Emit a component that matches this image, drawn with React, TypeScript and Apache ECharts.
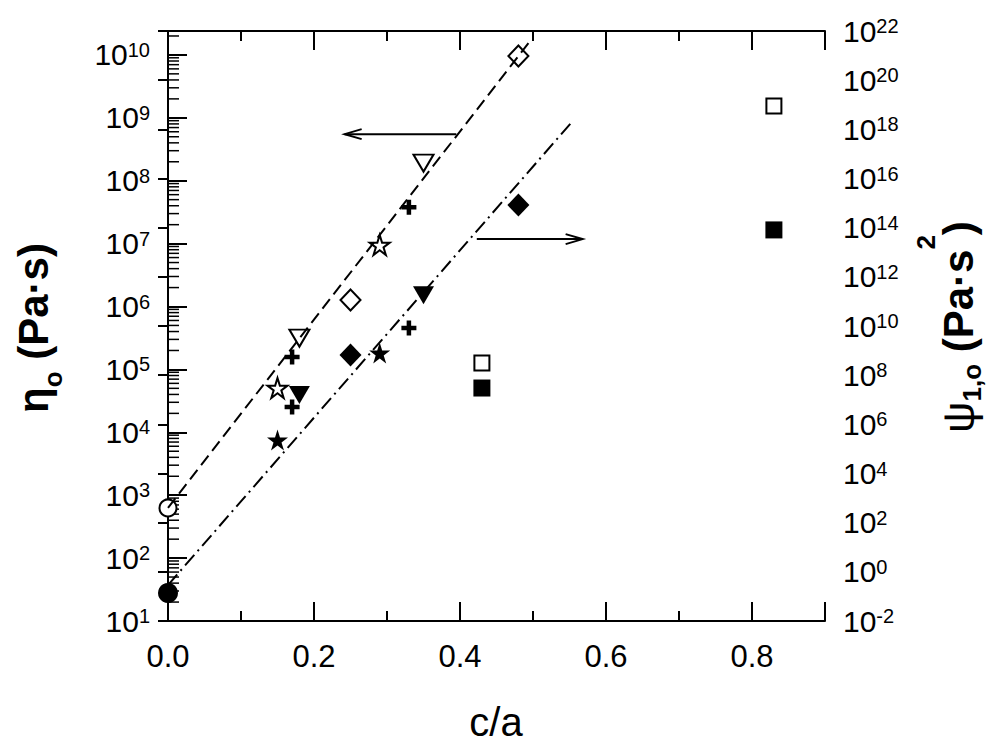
import React, { useEffect, useRef } from 'react';
import * as echarts from 'echarts';

const FONT = "'Liberation Sans', Arial, Helvetica, sans-serif";

// ---- axes ----
const xMin = 0;
const xMax = 0.9;
const xMajorStep = 0.2;
const xMinorStep = 0.1;
const etaMin = 10;
const etaMax = 2.4e10;
const psiMin = 1e-2;
const psiMax = 1e22;
const minorMultipliers = [2, 3, 4, 5, 6, 7, 8, 9];
const etaDecadeExponents = [1, 2, 3, 4, 5, 6, 7, 8, 9, 10];

// ---- data: c/a, eta_o (Pa·s, open symbols), psi_1,o (Pa·s², filled symbols) ----
const circleCA = [0];
const circleEta = [627];
const circlePsi = [0.138];

const starCA = [0.15, 0.29];
const starEta = [5.06e4, 9.5e6];
const starPsi = [2.3e5, 8.0e8];

const crossCA = [0.17, 0.33];
const crossEta = [1.57e5, 3.8e7];
const crossPsi = [5.1e6, 8.3e9];

const triangleCA = [0.18, 0.35];
const triangleEta = [3.15e5, 1.9e8];
const trianglePsi = [1.56e7, 1.8e11];

const diamondCA = [0.25, 0.48];
const diamondEta = [1.27e6, 9.6e9];
const diamondPsi = [6.6e8, 8.3e14];

const squareCA = [0.43, 0.83];
const squareEta = [1.26e5, 1.54e9];
const squarePsi = [3.0e7, 8.1e13];

// fitted lines
const etaFitCA = [0, 0.496];
const etaFitValues = [631, 1.66e10];
const psiFitCA = [0, 0.552];
const psiFitValues = [0.29, 1.8e18];

// arrows (in c/a and eta_o units): [x1, y1, x2, y2]
const arrowToLeft = [0.395, 5.5e8, 0.242, 5.5e8];
const arrowToRight = [0.423, 1.18e7, 0.568, 1.18e7];

const STAR = 'path://M50,0L61.2,34.5L97.6,34.5L68.2,55.9L79.4,90.5L50,69.1L20.6,90.5L31.8,55.9L2.4,34.5L38.8,34.5Z';
const CROSS = 'path://M35,0H65V35H100V65H65V100H35V65H0V35H35Z';

const zip = (xs: number[], ys: number[]) => xs.map((x, i) => [x, ys[i]]);

const openStyle = { color: '#fff', borderColor: '#000', borderWidth: 2, opacity: 1 };
const filledStyle = { color: '#000', borderColor: '#000', borderWidth: 0, opacity: 1 };

const supLabel = (v: number) => {
  const e = Math.log10(v);
  const r = Math.round(e);
  if (Math.abs(e - r) > 1e-6) return '';
  return `{b|10}{s|${r}}`;
};

const labelRich = {
  b: { fontSize: 30, fontFamily: FONT, color: '#000', lineHeight: 30 },
  s: { fontSize: 20, fontFamily: FONT, color: '#000', lineHeight: 20, verticalAlign: 'top' },
};

export default function App() {
  const ref = useRef<HTMLDivElement>(null);
  useEffect(() => {
    if (!ref.current) return;
    const chart = echarts.init(ref.current, undefined, { renderer: 'svg' });

    const minorValues: number[] = [];
    etaDecadeExponents.forEach((e) => {
      minorMultipliers.forEach((m) => {
        const v = m * Math.pow(10, e - 1);
        if (v > etaMin && v < etaMax) minorValues.push(v);
      });
    });
    minorMultipliers.forEach((m) => {
      const v = m * Math.pow(10, 10);
      if (v < etaMax) minorValues.push(v);
    });

    const scatter = (
      name: string,
      xs: number[],
      ys: number[],
      yAxisIndex: number,
      symbol: string,
      size: number | number[],
      style: any,
      rotate = 0
    ) => ({
      name,
      type: 'scatter',
      xAxisIndex: 0,
      yAxisIndex,
      data: zip(xs, ys),
      symbol,
      symbolSize: size,
      symbolRotate: rotate,
      itemStyle: style,
      z: 3,
      silent: true,
    });

    const boxLine = { show: true, lineStyle: { color: '#000', width: 2 } };

    const option: any = {
      animation: false,
      backgroundColor: '#fff',
      grid: { left: 168, right: 168, top: 31, bottom: 135, containLabel: false, outerBoundsMode: 'none' },
      xAxis: [
        {
          type: 'value', position: 'bottom', min: xMin, max: xMax, interval: xMajorStep,
          axisLine: boxLine,
          axisTick: { show: true, inside: true, length: 19, lineStyle: { color: '#000', width: 2 } },
          axisLabel: {
            show: true, margin: 20, fontSize: 31, fontFamily: FONT, color: '#000',
            formatter: (v: number) => {
              const k = v / xMajorStep;
              return Math.abs(k - Math.round(k)) < 1e-6 ? v.toFixed(1) : '';
            },
          },
          splitLine: { show: false },
        },
        {
          type: 'value', position: 'bottom', min: xMin, max: xMax, interval: xMinorStep,
          axisLine: { show: false },
          axisTick: { show: true, inside: true, length: 10, lineStyle: { color: '#000', width: 2 } },
          axisLabel: { show: false }, splitLine: { show: false },
        },
        {
          type: 'value', position: 'top', min: xMin, max: xMax, interval: xMajorStep,
          axisLine: boxLine,
          axisTick: { show: true, inside: true, length: 19, lineStyle: { color: '#000', width: 2 } },
          axisLabel: { show: false }, splitLine: { show: false },
        },
        {
          type: 'value', position: 'top', min: xMin, max: xMax, interval: xMinorStep,
          axisLine: { show: false },
          axisTick: { show: true, inside: true, length: 10, lineStyle: { color: '#000', width: 2 } },
          axisLabel: { show: false }, splitLine: { show: false },
        },
      ],
      yAxis: [
        {
          type: 'log', logBase: 10, position: 'left', min: etaMin, max: etaMax, interval: 1, splitNumber: 10,
          axisLine: boxLine,
          axisTick: { show: true, inside: true, length: 19, lineStyle: { color: '#000', width: 2 } },
          axisLabel: { show: true, margin: 18, formatter: supLabel, rich: labelRich, showMinLabel: true, showMaxLabel: true },
          splitLine: { show: false },
          minorTick: { show: false },
        },
        {
          type: 'log', logBase: 10, position: 'right', min: psiMin, max: psiMax, interval: 2,
          axisLine: boxLine,
          axisTick: { show: true, inside: true, length: 10, lineStyle: { color: '#000', width: 2 } },
          axisLabel: { show: true, margin: 18, formatter: supLabel, rich: labelRich, showMinLabel: true, showMaxLabel: true },
          splitLine: { show: false },
        },
      ],
      series: [
        {
          type: 'custom',
          name: 'minorTicks',
          xAxisIndex: 0,
          yAxisIndex: 0,
          silent: true,
          clip: false,
          z: 1,
          data: minorValues.map((v) => [xMin, v]),
          renderItem: (_p: any, api: any) => {
            const pt = api.coord([api.value(0), api.value(1)]);
            return {
              type: 'line',
              shape: { x1: pt[0], y1: pt[1], x2: pt[0] + 11, y2: pt[1] },
              style: { stroke: '#000', lineWidth: 1.5 },
            };
          },
        },
        scatter('eta circle', circleCA, circleEta, 0, 'circle', 17, openStyle),
        scatter('eta star', starCA, starEta, 0, STAR, 20, openStyle),
        scatter('eta cross', crossCA, crossEta, 0, CROSS, 15, filledStyle),
        scatter('eta triangle', triangleCA, triangleEta, 0, 'triangle', [20, 17], openStyle, 180),
        scatter('eta diamond', diamondCA, diamondEta, 0, 'diamond', [20, 21], openStyle),
        scatter('eta square', squareCA, squareEta, 0, 'rect', 15, openStyle),
        scatter('psi circle', circleCA, circlePsi, 1, 'circle', 20, filledStyle),
        scatter('psi star', starCA, starPsi, 1, STAR, 21, filledStyle),
        scatter('psi cross', crossCA, crossPsi, 1, CROSS, 15, filledStyle),
        scatter('psi triangle', triangleCA, trianglePsi, 1, 'triangle', [21, 18], filledStyle, 180),
        scatter('psi diamond', diamondCA, diamondPsi, 1, 'diamond', [22, 23], filledStyle),
        scatter('psi square', squareCA, squarePsi, 1, 'rect', 17, filledStyle),
        {
          type: 'line', name: 'eta fit', xAxisIndex: 0, yAxisIndex: 0,
          data: zip(etaFitCA, etaFitValues), showSymbol: false, symbol: 'none', z: 4, silent: true,
          lineStyle: { color: '#000', width: 2, type: [12, 6] },
        },
        {
          type: 'line', name: 'psi fit', xAxisIndex: 0, yAxisIndex: 1,
          data: zip(psiFitCA, psiFitValues), showSymbol: false, symbol: 'none', z: 4, silent: true,
          lineStyle: { color: '#000', width: 2, type: [14, 5, 2, 5] },
        },
        {
          type: 'custom', name: 'arrows', xAxisIndex: 0, yAxisIndex: 0, silent: true, z: 5,
          data: [arrowToLeft, arrowToRight],
          renderItem: (_p: any, api: any) => {
            const a = api.coord([api.value(0), api.value(1)]);
            const b = api.coord([api.value(2), api.value(3)]);
            const dir = b[0] > a[0] ? 1 : -1;
            return {
              type: 'group',
              children: [
                { type: 'line', shape: { x1: a[0], y1: a[1], x2: b[0], y2: b[1] }, style: { stroke: '#000', lineWidth: 2 } },
                {
                  type: 'polyline',
                  shape: { points: [[b[0] - dir * 17, b[1] - 5], [b[0], b[1]], [b[0] - dir * 17, b[1] + 5]] },
                  style: { stroke: '#000', lineWidth: 2, fill: 'none' },
                },
              ],
            };
          },
        },
      ],
      graphic: [
        {
          type: 'text', x: 33, y: 328, rotation: Math.PI / 2, silent: true,
          style: {
            text: '{g|η}{sub|o}{g| (Pa·s)}',
            align: 'center', verticalAlign: 'middle',
            rich: {
              g: { fontSize: 42, fontWeight: 'bold', fontFamily: FONT, fill: '#000', lineHeight: 66 },
              sub: { fontSize: 26, fontWeight: 'bold', fontFamily: FONT, fill: '#000', lineHeight: 26, verticalAlign: 'bottom' },
            },
          },
        },
        {
          type: 'text', x: 958, y: 327, rotation: Math.PI / 2, silent: true,
          style: {
            text: '{p|ψ}{sub|1,o}{g| (Pa·s}{sup|2}{g|)}',
            align: 'center', verticalAlign: 'middle',
            rich: {
              p: { fontSize: 44, fontFamily: FONT, fill: '#000', lineHeight: 90 },
              g: { fontSize: 42, fontWeight: 'bold', fontFamily: FONT, fill: '#000', lineHeight: 90 },
              sub: { fontSize: 26, fontWeight: 'bold', fontFamily: FONT, fill: '#000', lineHeight: 26, verticalAlign: 'bottom', padding: [0, 0, 18, 0] },
              sup: { fontSize: 26, fontWeight: 'bold', fontFamily: FONT, fill: '#000', lineHeight: 26, verticalAlign: 'top' },
            },
          },
        },
        {
          type: 'text', x: 496, y: 722, silent: true,
          style: {
            text: 'c/a', align: 'center', verticalAlign: 'middle',
            fontSize: 40, fontFamily: FONT, fill: '#000',
          },
        },
      ],
    };

    chart.setOption(option);
    return () => chart.dispose();
  }, []);

  return (
    <div
      ref={ref}
      style={{ position: 'fixed', left: 0, top: 0, width: 993, height: 756, background: '#fff' }}
    />
  );
}
